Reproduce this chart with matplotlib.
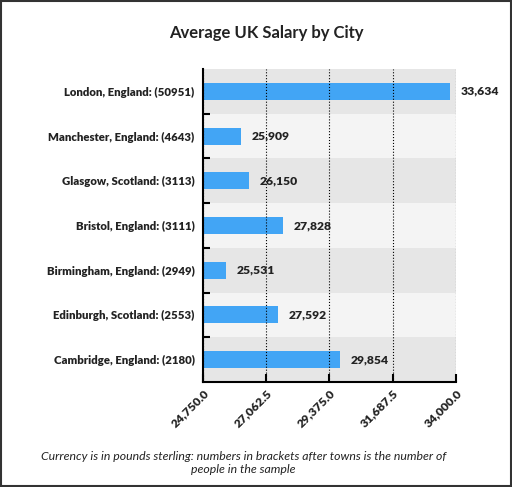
import matplotlib.pyplot as plt
from matplotlib.patches import Rectangle
import numpy as np

plt.rcParams['font.family'] = ['Lato', 'DejaVu Sans']

cities = ['London, England: (50951)', 'Manchester, England: (4643)',
          'Glasgow, Scotland: (3113)', 'Bristol, England: (3111)',
          'Birmingham, England: (2949)', 'Edinburgh, Scotland: (2553)',
          'Cambridge, England: (2180)']
# printed labels
salary_labels = [33634, 25909, 26150, 27828, 25531, 27592, 29854]
# bar lengths as drawn in the picture (they don't quite agree with the labels)
bar_values = [33781, 26134, 26439, 27687, 25594, 27492, 29754]
xticks = [24750.0, 27062.5, 29375.0, 31687.5, 34000.0]

fig = plt.figure(figsize=(5.12, 4.87), dpi=100)
ax = fig.add_axes([0.3965, 0.2156, 0.494, 0.6427])

y = np.arange(len(cities))
# alternating row bands
for i in y:
    col = '#e6e6e6' if i % 2 == 0 else '#f4f4f4'
    ax.axhspan(i - 0.5, i + 0.5, color=col, zorder=0, lw=0)

ax.barh(y, bar_values, height=0.38, left=0, color='#42a5f5', zorder=2)
ax.set_xlim(xticks[0], xticks[-1])
ax.set_ylim(len(cities) - 0.5, -0.5)

for i, (b, v) in enumerate(zip(bar_values, salary_labels)):
    ax.annotate(f'{v:,}', (b, i), xytext=(7.5, 0), textcoords='offset points',
                va='center', ha='left', fontsize=8.7, fontweight='heavy',
                color='#222222', annotation_clip=False)

ax.set_xticks(xticks)
ax.set_xticklabels([f'{t:,.1f}' for t in xticks], rotation=45, ha='right',
                   rotation_mode='anchor', fontsize=8.7, fontweight='heavy',
                   color='#222222')
ax.set_yticks(y)
ax.set_yticklabels(cities, fontsize=8.2, fontweight='heavy', color='#222222')
ax.tick_params(axis='y', length=0, pad=6)
ax.tick_params(axis='x', direction='in', length=6, width=1.5, pad=4)

# ticks at band boundaries on the left spine
ax.set_yticks(np.arange(0.5, len(cities) - 0.5), minor=True)
ax.tick_params(axis='y', which='minor', direction='in', length=5, width=1.5)

ax.grid(axis='x', linestyle=':', color='black', linewidth=0.8, zorder=1)
ax.set_axisbelow(False)
for s in ['top', 'right']:
    ax.spines[s].set_visible(False)
for s in ['left', 'bottom']:
    ax.spines[s].set_linewidth(1.5)
    ax.spines[s].set_zorder(4)

fig.text(0.52, 0.932, 'Average UK Salary by City', ha='center', va='center',
         fontsize=12, fontweight='bold', color='#222222')
fig.text(0.475, 0.05, 'Currency is in pounds sterling: numbers in brackets after towns is the number of\npeople in the sample',
         ha='center', va='center', fontsize=8.8, style='italic', color='#222222',
         linespacing=1.2)

fig.add_artist(Rectangle((0.002, 0.002), 0.996, 0.996, transform=fig.transFigure,
                         fill=False, edgecolor='#333333', linewidth=1.5))

fig.savefig('out.png', dpi=100)
